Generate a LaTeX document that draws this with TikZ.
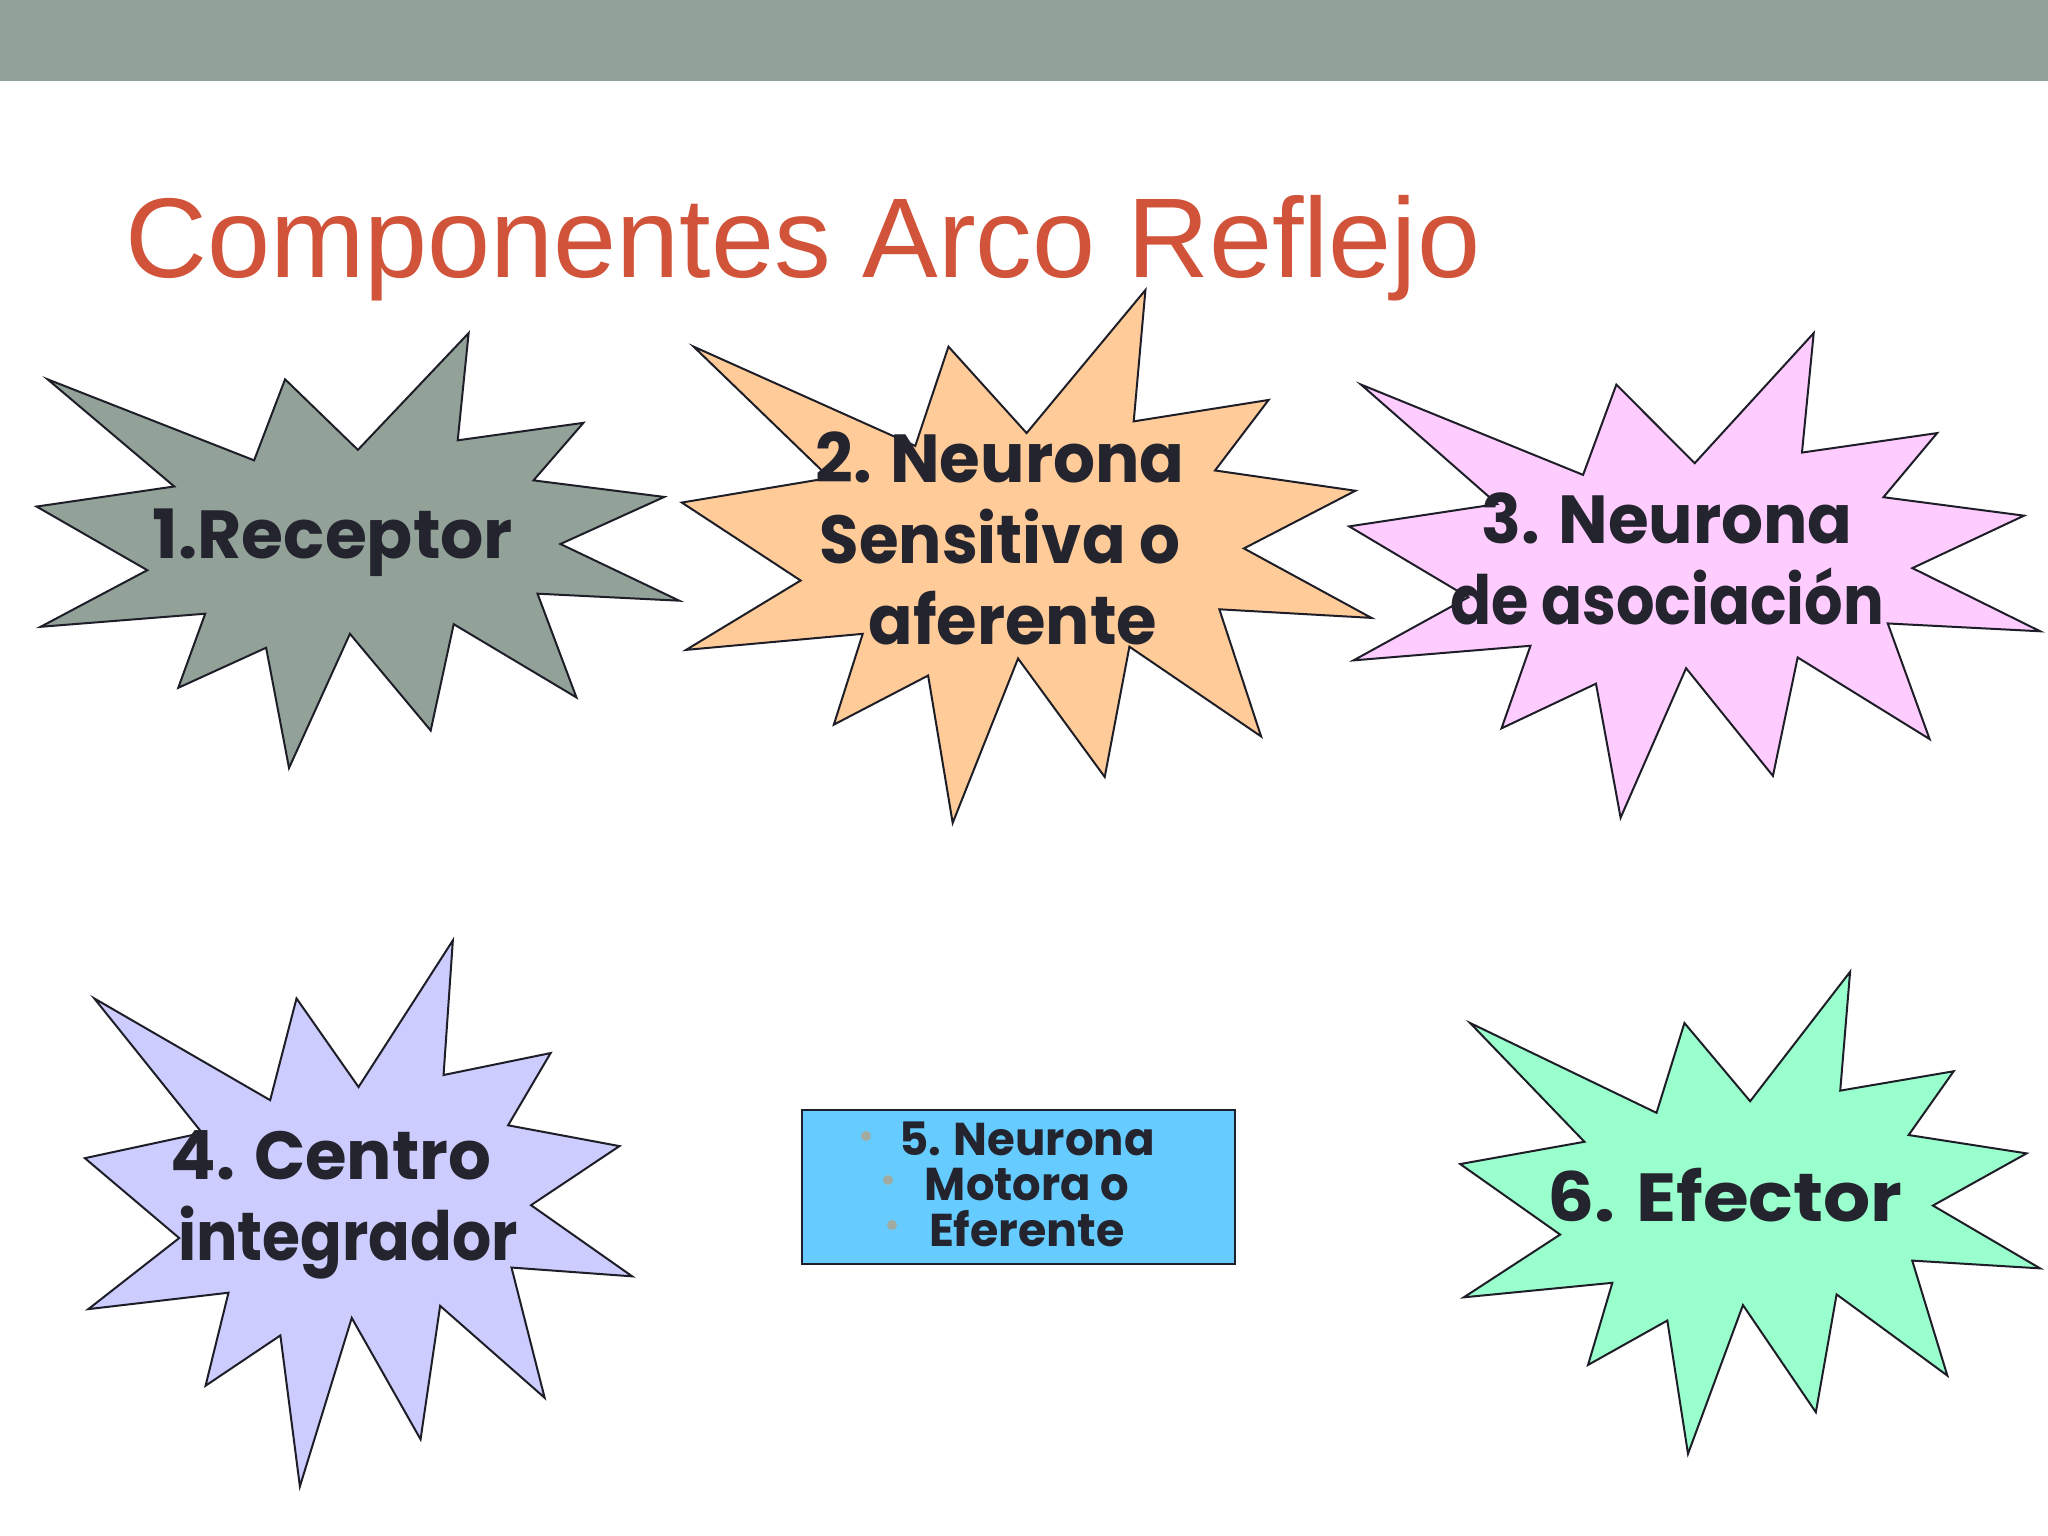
\documentclass[tikz,border=0pt]{standalone}
\usepackage{fontspec}
\setmainfont{Liberation Sans}
\newfontfamily\comicfont{Poppins}
\definecolor{barcol}{RGB}{147,162,153}
\definecolor{titlecol}{RGB}{208,83,58}
\definecolor{inkcol}{RGB}{36,36,46}
\definecolor{edgecol}{RGB}{30,30,40}
\definecolor{peach}{RGB}{255,204,153}
\definecolor{pinkc}{RGB}{255,204,255}
\definecolor{lavc}{RGB}{204,204,255}
\definecolor{mintc}{RGB}{153,255,204}
\definecolor{skyc}{RGB}{102,204,255}
\definecolor{bulcol}{RGB}{160,172,162}
\tikzset{
  burstline/.style={draw=edgecol, line width=2pt, line join=miter},
  bigtxt/.style={anchor=base, inner sep=0pt, text=inkcol, font=\comicfont\bfseries\fontsize{68}{80}\selectfont},
  smalltxt/.style={anchor=base, inner sep=0pt, text=inkcol, font=\comicfont\bfseries\fontsize{46}{54}\selectfont},
  bulletdot/.style={circle, fill=bulcol, inner sep=0pt, minimum size=10pt}
}
\newcommand{\hsq}[2]{\scalebox{#1}[1]{#2}}
\newcommand{\burstshape}[5]{%
  \begin{scope}[shift={(#1,#2)}, xscale=#3/216, yscale=#4/216]
    \path[burstline, fill=#5] (108,58) -- (145.22,0) -- (141.55,53.25) -- (183.80,44.57)
      -- (167.02,73.15) -- (210.97,81.37) -- (176.07,104.75) -- (216,132.90)
      -- (168.37,129.42) -- (181.45,180.95) -- (140.20,144.57) -- (132.47,197.37)
      -- (105.32,149.35) -- (84.85,216) -- (77.15,156.27) -- (47.62,176.17)
      -- (56.67,139.37) -- (1.35,145.87) -- (37.22,117.75) -- (0,86.15)
      -- (46.27,76.17) -- (3.70,22.95) -- (73.12,63.20) -- (83.52,22.95) -- cycle;
  \end{scope}}
\begin{document}
\begin{tikzpicture}[x=1pt, y=-1pt]
\useasboundingbox (0,0) rectangle (2048,1536);
\fill[white] (0,0) rectangle (2048,1536);
% top bar
\fill[barcol] (0,0) rectangle (2048,81);
% title
\node[anchor=base west, inner sep=0pt, text=titlecol, font=\fontsize{113.4}{130}\selectfont] (title) at (125,277) {Componentes Arco Reflejo};
% bursts
\burstshape{36.6}{333.1}{642.6}{434.9}{barcol}
\burstshape{681.8}{290}{689.6}{532.9}{peach}
\burstshape{1349.2}{333.1}{690.9}{484.6}{pinkc}
\burstshape{84.9}{940.4}{547.3}{546}{lavc}
\burstshape{1460.2}{971.8}{579.9}{482}{mintc}
% box 5
\node[draw=edgecol, line width=1.6pt, fill=skyc, minimum width=433pt, minimum height=154pt, inner sep=0pt, anchor=north west] (box) at (801,1109) {};
% texts
\node[bigtxt] (t1) at (333,558) {1.Receptor};
\node[bigtxt] (t2a) at (1000,482) {\hsq{0.97}{2. Neurona}};
\node[bigtxt] (t2b) at (1000,563) {\hsq{0.945}{Sensitiva o}};
\node[bigtxt] (t2c) at (1013,644) {\hsq{0.965}{aferente}};
\node[bigtxt] (t3a) at (1667,543) {\hsq{0.97}{3. Neurona}};
\node[bigtxt] (t3b) at (1667,624) {\hsq{0.89}{de asociación}};
\node[bigtxt] (t4a) at (331,1179) {\hsq{0.99}{4. Centro}};
\node[bigtxt] (t4b) at (348,1260) {\hsq{0.905}{integrador}};
\node[bigtxt] (t6) at (1725,1221) {\hsq{1.09}{6. Efector}};
\node[smalltxt] (t5a) at (1027,1155) {\hsq{0.98}{5. Neurona}};
\node[smalltxt] (t5b) at (1027,1200) {\hsq{0.975}{Motora o}};
\node[smalltxt] (t5c) at (1027,1246) {Eferente};
\node[bulletdot] (b1) at (866,1136) {};
\node[bulletdot] (b2) at (888,1180) {};
\node[bulletdot] (b3) at (892,1225) {};
\end{tikzpicture}
\end{document}
